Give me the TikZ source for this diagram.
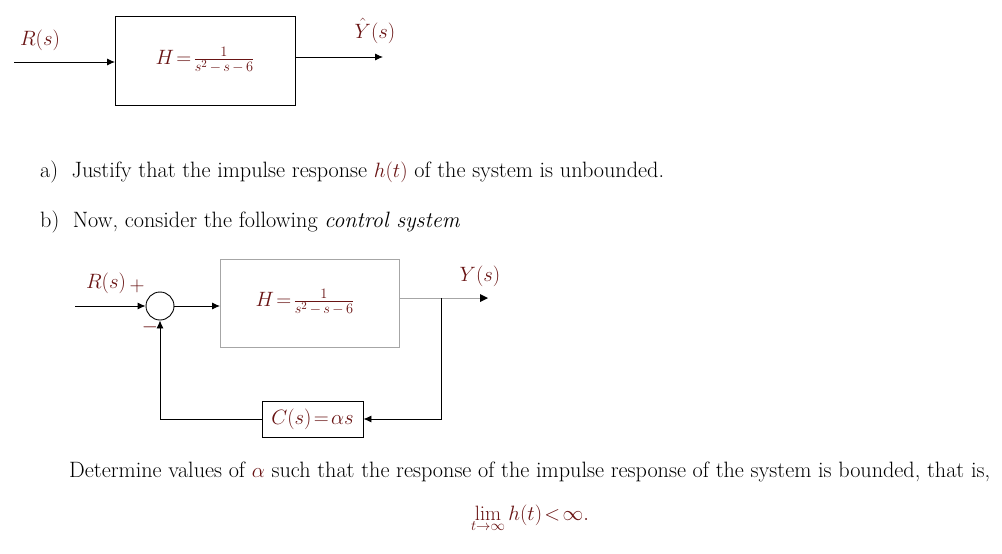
\documentclass[tikz,border=0pt]{standalone}
\usetikzlibrary{arrows.meta}
\definecolor{mred}{RGB}{105,20,20}
\newcommand{\myfr}{\frac{1}{s^2\,{-}\,s\,{-}\,6}}
\begin{document}
\begin{tikzpicture}[x=1pt,y=-1pt,
  txt/.style={font=\fontsize{22.2}{26}\selectfont,inner sep=0pt,anchor=base west},
  lbl/.style={font=\fontsize{22}{26}\selectfont,text=mred,inner sep=1pt},
  blk/.style={draw,line width=0.9pt},
  arr/.style={-{Latex[length=8pt,width=7pt]},line width=0.9pt}]
\useasboundingbox (0,0) rectangle (1002,554);
% top diagram
\node[lbl] (R1) at (40,40) {$R(s)$};
\coordinate (in1) at (14,62);
\node[blk,minimum width=180,minimum height=89,anchor=north west] (H1) at (115,16) {};
\node[lbl] at (205,60) {$H\!=\!\myfr$};
\draw[arr] (in1) -- (in1 -| H1.west);
\coordinate (out1) at (383,57);
\draw[arr] (H1.east |- out1) -- (out1);
\node[lbl] (Y1) at (375,31) {$\hat{Y}(s)$};
% text
\node[txt] (ta) at (40,177) {a)\ \ Justify that the impulse response \textcolor{mred}{$h(t)$} of the system is unbounded.};
\node[txt] (tb) at (40,227) {b)\ \ Now, consider the following \textit{control system}};
% bottom diagram
\node[draw,circle,minimum size=28,inner sep=0pt,line width=0.9pt] (S) at (160,306) {};
\coordinate (in2) at (75,306);
\draw[arr] (in2) -- (S.west);
\node[lbl] at (106,283) {$R(s)$};
\node[lbl] at (137,286) {$+$};
\node[lbl] at (150,327) {$-$};
\node[draw=black!35,line width=0.9pt,minimum width=179,minimum height=88,anchor=north west] (H2) at (220,259) {};
\node[lbl] at (305,302) {$H\!=\!\myfr$};
\draw[arr] (S.east) -- (H2.west |- S.east);
\coordinate (br) at (441,298);
\coordinate (out2) at (487,298);
\draw[black!35,line width=0.9pt] (H2.east |- br) -- (out2);
\fill (488,298) -- (480,294) -- (480,302) -- cycle;
\node[lbl] at (480,276) {$Y(s)$};
\node[blk,minimum width=101,minimum height=36,inner sep=0pt] (C) at (312.5,419) {};
\node[lbl] at (C) {$C(s)\!=\!\alpha s$};
\draw[arr] (br) |- (C.east);
\draw[arr] (C.west) -| (S.south);
\node[txt] (td) at (69,477) {Determine values of \textcolor{mred}{$\alpha$} such that the response of the impulse response of the system is bounded, that is,};
\node[font=\fontsize{22}{26}\selectfont,text=mred,inner sep=0pt] (lim) at (530,518) {$\displaystyle\lim_{t\to\infty} h(t)\!<\!\infty.$};
\end{tikzpicture}
\end{document}
